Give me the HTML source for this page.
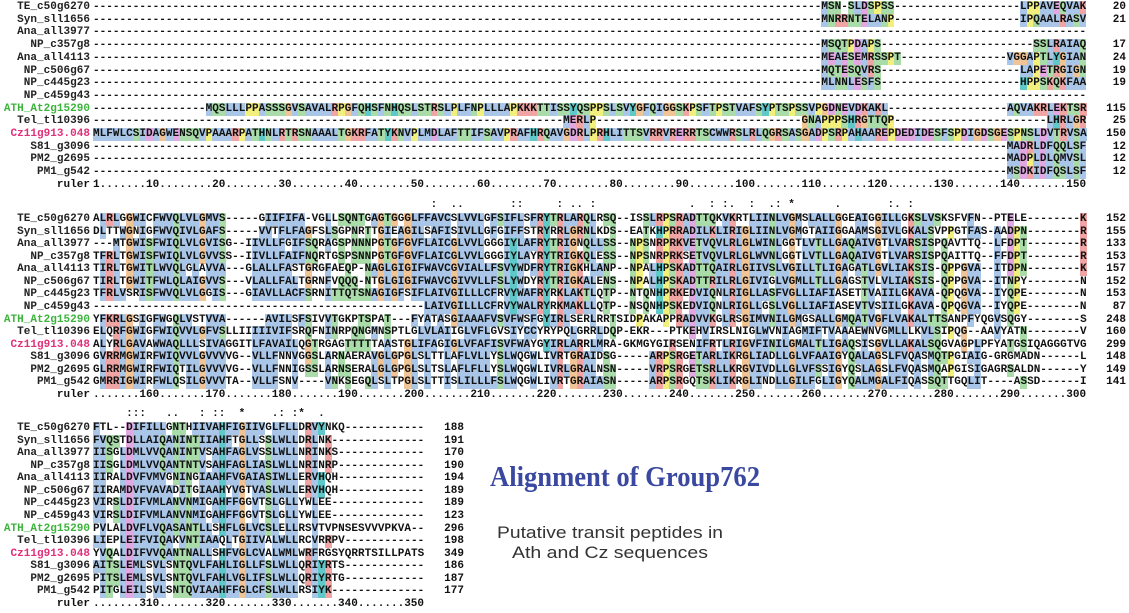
<!DOCTYPE html>
<html><head><meta charset="utf-8">
<style>
html,body{margin:0;padding:0;background:#fff;}
#c{position:relative;width:1129px;height:613px;overflow:hidden;background:#fff;}
.l{position:absolute;white-space:pre;font-family:"Liberation Mono",monospace;font-weight:bold;font-size:11px;line-height:12px;height:12px;color:#111;letter-spacing:0.02px;}
.n{text-align:right;width:90px;left:-4px;}
.s span{display:inline-block;height:13px;}
</style></head><body>
<div id="c"></div>
<svg style="position:absolute;left:0;top:0" width="1129" height="613">
<text x="490" y="486" textLength="270" lengthAdjust="spacingAndGlyphs" font-family="Liberation Serif, serif" font-weight="bold" font-size="29" fill="#3a48a0">Alignment of Group762</text>
<text x="497" y="538" textLength="226" lengthAdjust="spacingAndGlyphs" font-family="Liberation Sans, sans-serif" font-size="17" fill="#333">Putative transit peptides in</text>
<text x="512" y="558" textLength="196" lengthAdjust="spacingAndGlyphs" font-family="Liberation Sans, sans-serif" font-size="17" fill="#333">Ath and Cz sequences</text>
</svg>
<script>
var names=["TE_c50g6270","Syn_sll1656","Ana_all3977","NP_c357g8","Ana_all4113","NP_c506g67","NP_c445g23","NP_c459g43","ATH_At2g15290","Tel_tl10396","Cz11g913.048","S81_g3096","PM2_g2695","PM1_g542"];
function mk(parts,len){var a=[];for(var i=0;i<len;i++)a.push('-');parts.forEach(function(p){var c=p[0];if(c<0)c=len-p[1].length;for(var j=0;j<p[1].length&&c+j<len;j++)a[c+j]=p[1][j];});return a.join('');}
function fit(s,len){while(s.length<len)s+='-';return s.substr(0,len);}
var b1=[
mk([[110,"MSN-SLDSPSS"],[-1,"LPPAVEQVAK"]],150),
mk([[110,"MNRRNTELANP"],[-1,"IPQAALRASV"]],150),
mk([],150),
mk([[110,"MSQTPDAPS"],[-1,"SSLRAIAQ"]],150),
mk([[110,"MEAESEMRSSPT"],[-1,"VGGAPTLYGIAN"]],150),
mk([[110,"MQTESQVRS"],[-1,"LAPETRGIGN"]],150),
mk([[110,"MLNNLESFS"],[-1,"HPPSKQKFAA"]],150),
mk([],150),
mk([[17,"MQSLLLPPASSSGVSAVALRPGFQHSFNHQSLSTRSLPLFNPLLLAPKKKTTISSYQSPPSLSVYGFQIGGSKPSFTPSTVAFSYPTSPSSVPGDNEVDKAKL"],[-1,"AQVAKRLEKTSR"]],150),
mk([[71,"MERLP"],[107,"GNAPPPSHRGTTQP"],[-1,"LHRLGR"]],150),
fit("MLFWLCSIDAGWENSQVPAAARPATHNLRTRSNAAALTGKRFATYKNVPLMDLAFTTIFSAVPRAFHRQAVGDRLPRHLITTSVRRVRERRTSCWWRSLRLQGRSASGADPSRPAHAAREPDEDIDESFSPDIGDSGESPNSLDVTRVSA",150),
mk([[-1,"MADRLDFQQLSF"]],150),
mk([[-1,"MADPLDLQMVSL"]],150),
mk([[-1,"MSDKIDFQSLSF"]],150)];
var n1=["20","21","","17","24","19","19","","115","25","150","12","12","12"];
var b2raw=[
"ALRLGGWICFWVQLVLGMVS-----GIIFIFA-VGLLSQNTGAGTGGGLFFAVCSLVVLGFSIFLSFRYTRLARQLRSQ--ISSLRPSRADTTQKVKRTLIINLVGMSLALLGGEAIGGILLGKSLVSKSFVFN--PTELE--------K",
"DLTTWGNIGFWVQIVLGAFS-----VVTFLFAGFSLSGPNRTTGIEAGILSAFISIVLLGFGIFFSTRYRRLGRNLKDS--EATKHPRRADILKLIRIGLIINLVGMGTAIIGGAAMSGIVLGKALSVPPGTFAS-AADPN--------R",
"---MTGWISFWIQLVLGVISG--IIVLLFGIFSQRAGSPNNNPGTGFGVFLAICGLVVLGGGIYLAFRYTRIGNQLLSS--NPSNRPRKVETVQVLRLGLWINLGGTLVTLLGAQAIVGTLVARSISPQAVTTQ--LFDPT--------R",
"TFRLTGWISFWIQLVLGVVSS--IIVLLFAIFNQRTGSPSNNPGTGFGVFLAICGLVVLGGGIYLAYRYTRIGKQLESS--NPSNRPRKSETVQVLRLGLWVNLGGTLVTLLGAQAIVGTLVARSISPQAITTQ--FFDPT--------R",
"TIRLTGWITLWVQLGLAVVA---GLALLFASTGRGFAEQP-NAGLGIGIFWAVCGVIALLFSVYWDFRYTRIGKHLANP--NPALHPSKADTTQAIRLGIIVSLVGILLTLIGAGATLGVLIAKSIS-QPPGVA--ITDPN--------K",
"TIRLTGWITFWLQLAIGVVS---VLALLFALTGRNFVQQQ-NTGLGIGIFWAVCGIVVLLFSLYWDYRYTRIGKALENS--NPALHPSKADTTRILRLGIVIGLVGMLLTLLGAGSTVLVLIAKSIS-QPPGVA--ITNPY--------N",
"TFRLVSRISFWVQLVLGGIS---GIAVLLACFSRNITTQTSNAGIGFSIFLAIVGILLLCFRVYWAFRYRKLAKTLQTP--NTQNHPRKEDVIQNLRIGLLASFVGLLIAFIASETTVAIILGKAVA-QPQGVA--IYQPE--------N",
"--------------------------------------------------LAIVGILLLCFRVYWALRYRKMAKLLQTP--NSQNHPSKEDVIQNLRIGLLGSLVGLLIAFIASEVTVSIILGKAVA-QPQGVA--IYQPE--------N",
"YFKRLGSIGFWGQLVSTVVA------AVILSFSIVVTGKPTSPAT---FYATASGIAAAFVSVFWSFGYIRLSERLRRTSIDPAKAPPRADVVKGLRSGIMVNILGMGSALLGMQATVGFLVAKALTTSANPFYQGVSQGY-------S",
"ELQRFGWIGFWIQVVLGFVSLLIIIIIVIFSRQFNINRPQNGMNSPTLGLVLAIIGLVFLGVSIYCCYRYPQLGRRLDQP-EKR---PTKEHVIRSLNIGLWVNIAGMIFTVAAAEWNVGMLLLKVLSIPQG--AAVYATN--------V",
"ALYRLGAVAWWAQLLLSIVAGGITLFAVAILQGTRGAGTTTTTAASTGLIFAGIGLVFAFISVFWAYGYIRLARRLMRA-GKMGYGIRSENIFRTLRIGVFINILGMALTLIGAQSISGVLLAKALSQGVAGPLPFYATGSIQAGGGTVG",
"GVRRMGWIRFWIQVVLGVVVVG--VLLFNNVGGSLARNAERAVGLGPGLSLTTLAFLVLLYSLWQGWLIVRTGRAIDSG-----ARPSRGETARLIKRGLIADLLGLVFAAIGYQALAGSLFVQASMQTPGIAIG-GRGMADN------L",
"GLRRMGWIRFWIQTILGVVVVG--VLLFNNIGSSLARNSERALGLGPGLSLTSLAFLFLLYSLWQGWLIVRLGRALNSN-----VRPSRGETSRLLKRGVIVDLLGLVFSSIGYQSLAGSLFVQASMQAPGISIGAGRSALDN------Y",
"GMRRIGWIRFWLQSILGVVVTA--VLLFSNV----VNKSEGQLSLTPGLSLTTISLILLLFSLWQGWLIVRTGRAIASN-----ARPSRGQTSKLIKRGLINDLLGILFGLIGYQALMGALFIQASSQTTGQLIT----ASSD------I"];
var b2=b2raw.map(function(s){if(s.length<150){var last=s[s.length-1];s=s.substr(0,s.length-1);while(s.length<149)s+='-';s+=last;}return s.substr(0,150);});
var n2=["152","155","133","153","157","152","153","87","248","160","299","148","149","141"];
var b3=["FTL--DIFILLGNTHIIVAHFIGIIVGLFLLDRVYNKQ","FVQSTDLLAIQANINTIIAHFTGLLSSLWLLDRLNK","IISGLDMLVVQANINTVSAHFAGLVSSLWLLNRINKS","IISGLDMLVVQANTNTVSAHFAGLIASLWLLNRINRP","IIRALDVFVMVGNINGIAAHFVGAIASIWLLERVHQH","IIRAMDVFVAVADITGIAAHYVGTVASLWLLERVHQH","VIRSLDIFVMLANVNMIGAHFFGGVTSLGLLYWLEE","VIRSLDIFVMLANVNMIGAHFFGGVTSLGLLYWLEE","PVLALDVFLVQASANTLLSHFLGLVCSLELLRSVTVPNSESVVVPKVA","LIEPLEIFVIQAKVNTIAAQLTGIIVALWLLRCVRRPV","YVQALDIFVVQANTNALLSHFVGLCVALWMLWRFRGSYQRRTSILLPATS","AITSLEMLSVLSNTQVLFAHLIGLLFSLWLLQRIYRTS","PITSLEMLSVLSNTQVLFAHLVGLIFSLWLLQRIYRTG","PITGLEILSVLSNTQVIAAHFFGLCFSLWLLRSIYK"].map(function(s){return fit(s,50);});
var n3=["188","191","170","190","194","189","189","123","296","198","349","186","187","177"];
function ruler(st,len){var a=[];for(var i=0;i<len;i++)a.push('.');if(st==1)a[0]='1';for(var p=st;p<st+len;p++){if(p%10==0){var t=String(p);for(var k=0;k<t.length;k++){var idx=p-st-(t.length-1)+k;if(idx>=0)a[idx]=t[k];}}}return a.join('');}
function grp(c){if("AILMFWVC".indexOf(c)>=0)return 0;if("KR".indexOf(c)>=0)return 1;if("DE".indexOf(c)>=0)return 2;if("NQST".indexOf(c)>=0)return 3;if(c=="G")return 4;if(c=="P")return 5;if("HY".indexOf(c)>=0)return 6;return -1;}
var cols=["#a9c6e8","#f0a4a4","#e2a8e2","#a9dca9","#f1c495","#f3ef7c","#5fc8c8"];
var C=document.getElementById('c');
function add(cls,x,y,html,extra){var d=document.createElement('div');d.className='l '+cls;d.style.left=x+'px';d.style.top=(y-6)+'px';if(extra)d.style.cssText+=extra;d.innerHTML=html;C.appendChild(d);}
function block(seqs,nums,x0,y0,dy,rul,cons,all,numx){
 var L=seqs[0].length;var colorOK=[];
 for(var i=0;i<L;i++){var cnt={};var tot=0;seqs.forEach(function(s){var g=grp(s[i]);if(s[i]!='-')tot++;if(g>=0)cnt[g]=(cnt[g]||0)+1;});colorOK.push(cnt);}
 if(cons!==null)add('s',x0,y0-dy*1.1,cons,'');
 seqs.forEach(function(s,r){
  var y=y0+r*dy;var nm=names[r];var col=r==8?'#3cb43c':(r==10?'#e0307a':'#222');
  add('n',0,y,nm,'color:'+col+';');
  var h='';for(var i=0;i<s.length;i++){var c=s[i];var g=grp(c);var bg='';
   if(g>=0){if(all||(colorOK[i][g]||0)>=5)bg=cols[g];}
   h+=bg?'<span style="background:'+bg+'">'+c+'</span>':c;}
  add('s',x0,y,h,'');
  add('',numx-30,y,nums[r],'width:30px;text-align:right;');
 });
 var ry=y0+14*dy;add('n',0,ry,'ruler','');add('',x0,ry,rul,'');
}
function consStr(len,m){var a=[];for(var i=0;i<len;i++)a.push(' ');for(var k in m)a[k]=m[k];return a.join('');}
block(b1,n1,93,7,12.7,ruler(1,150),null,true,1126);
block(b2,n2,93,219,12.57,ruler(151,150),consStr(150,{51:':',54:'.',55:'.',63:':',64:':',70:':',72:'.',73:'.',75:':',90:'.',93:':',95:':',96:'.',99:':',102:'.',103:':',105:'*',112:'.',120:':',121:'.',123:':'}),false,1126);
block(b3,n3,93,428,12.57,ruler(301,50),consStr(50,{5:':',6:':',7:':',11:'.',12:'.',16:':',18:':',19:':',22:'*',27:'.',28:':',30:':',31:'*',34:'.'}),false,464);
</script>
</body></html>
